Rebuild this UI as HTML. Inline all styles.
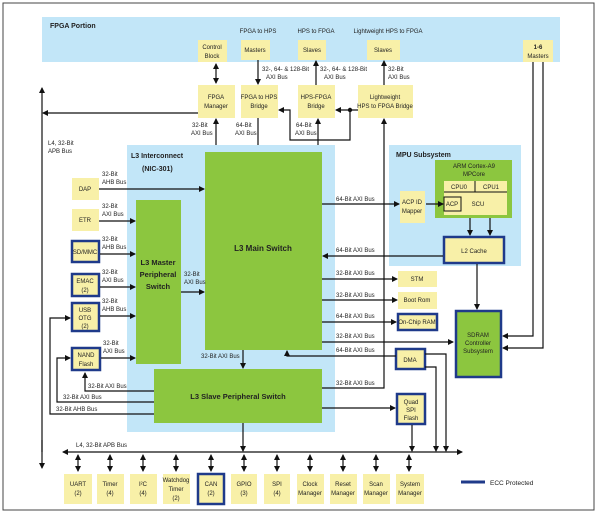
<!DOCTYPE html>
<html><head><meta charset="utf-8"><style>
html,body{margin:0;padding:0;background:#fff}
svg{display:block}
text{font-family:"Liberation Sans Narrow","Liberation Sans",sans-serif;font-size:6px;fill:#222}
.b{font-weight:bold}
.y{fill:#f8f0a8}
.g{fill:#8cc63f}
.lb{fill:#c2e6f8}
.e{stroke:#1f3a8a;stroke-width:2.5}
.l{stroke:#111;stroke-width:1.2;fill:none}
</style></head><body>
<svg width="600" height="516" viewBox="0 0 600 516" xmlns="http://www.w3.org/2000/svg">
<defs><marker id="a" markerWidth="6" markerHeight="6" refX="5" refY="3" orient="auto" markerUnits="userSpaceOnUse"><path d="M0,0 L6,3 L0,6 z" fill="#111"/></marker>
<marker id="s" markerWidth="6" markerHeight="6" refX="1" refY="3" orient="auto" markerUnits="userSpaceOnUse"><path d="M6,0 L0,3 L6,6 z" fill="#111"/></marker></defs>
<rect x="3" y="3" width="591" height="507" fill="#fff" stroke="#444" stroke-width="1"/>
<!-- FPGA band -->
<rect class="lb" x="42" y="17" width="518" height="45"/>
<text x="50" y="28" class="b" style="font-size:7px">FPGA Portion</text>
<text x="258" y="33" text-anchor="middle">FPGA to HPS</text>
<text x="316" y="33" text-anchor="middle">HPS to FPGA</text>
<text x="388" y="33" text-anchor="middle">Lightweight HPS to FPGA</text>
<rect class="y" x="198" y="40" width="29" height="22"/><text x="212" y="49" text-anchor="middle">Control</text><text x="212" y="58" text-anchor="middle">Block</text>
<rect class="y" x="241" y="40" width="29" height="20"/><text x="255" y="52" text-anchor="middle">Masters</text>
<rect class="y" x="298" y="40" width="28" height="20"/><text x="312" y="52" text-anchor="middle">Slaves</text>
<rect class="y" x="367" y="40" width="33" height="20"/><text x="383" y="52" text-anchor="middle">Slaves</text>
<rect class="y" x="523" y="40" width="30" height="22"/><text x="538" y="49" text-anchor="middle" class="b">1-6</text><text x="538" y="58" text-anchor="middle">Masters</text>
<!-- row2 -->
<rect class="y" x="198" y="85" width="37" height="33"/><text x="216" y="99" text-anchor="middle">FPGA</text><text x="216" y="108" text-anchor="middle">Manager</text>
<rect class="y" x="241" y="85" width="37" height="33"/><text x="259" y="99" text-anchor="middle">FPGA to HPS</text><text x="259" y="108" text-anchor="middle">Bridge</text>
<rect class="y" x="298" y="85" width="37" height="33"/><text x="316" y="99" text-anchor="middle">HPS-FPGA</text><text x="316" y="108" text-anchor="middle">Bridge</text>
<rect class="y" x="358" y="85" width="55" height="33"/><text x="385" y="99" text-anchor="middle">Lightweight</text><text x="385" y="108" text-anchor="middle">HPS to FPGA Bridge</text>
<line class="l" x1="216" y1="64" x2="216" y2="83" marker-start="url(#s)" marker-end="url(#a)"/>
<line class="l" x1="258" y1="60" x2="258" y2="84" marker-end="url(#a)"/>
<text x="262" y="71">32-, 64- &amp; 128-Bit</text><text x="266" y="79">AXI Bus</text>
<line class="l" x1="316" y1="85" x2="316" y2="61" marker-end="url(#a)"/>
<text x="320" y="71">32-, 64- &amp; 128-Bit</text><text x="324" y="79">AXI Bus</text>
<line class="l" x1="384" y1="85" x2="384" y2="61" marker-end="url(#a)"/>
<text x="388" y="71">32-Bit</text><text x="388" y="79">AXI Bus</text>
<line class="l" x1="198" y1="113" x2="43" y2="113" marker-end="url(#a)"/>
<line class="l" x1="42" y1="452" x2="42" y2="88" marker-end="url(#a)"/>
<line class="l" x1="42" y1="440" x2="42" y2="468" marker-end="url(#a)"/>
<text x="48" y="145">L4, 32-Bit</text><text x="48" y="153">APB Bus</text>
<line class="l" x1="216" y1="152" x2="216" y2="119" marker-end="url(#a)"/>
<text x="192" y="127">32-Bit</text><text x="191" y="135">AXI Bus</text>
<line class="l" x1="258" y1="118" x2="258" y2="151" marker-end="url(#a)"/>
<text x="236" y="127">64-Bit</text><text x="235" y="135">AXI Bus</text>
<line class="l" x1="318" y1="152" x2="318" y2="119" marker-end="url(#a)"/>
<text x="296" y="127">64-Bit</text><text x="295" y="135">AXI Bus</text>
<line class="l" x1="358" y1="110" x2="336" y2="110" marker-end="url(#a)"/>
<polyline class="l" points="350,110 350,140 290,140 290,110 279,110" marker-end="url(#a)"/>
<circle cx="350" cy="110" r="2.2" fill="#111"/>
<!-- L3 interconnect -->
<rect class="lb" x="127" y="145" width="208" height="287"/>
<text x="131" y="158" class="b" style="font-size:7px">L3 Interconnect</text>
<text x="142" y="171" class="b" style="font-size:7px">(NIC-301)</text>
<rect class="g" x="205" y="152" width="117" height="198"/>
<text x="263" y="251" text-anchor="middle" class="b" style="font-size:8px">L3 Main Switch</text>
<rect class="g" x="136" y="200" width="45" height="164"/>
<text x="158" y="265" text-anchor="middle" class="b" style="font-size:7.5px">L3 Master</text>
<text x="158" y="277" text-anchor="middle" class="b" style="font-size:7.5px">Peripheral</text>
<text x="158" y="289" text-anchor="middle" class="b" style="font-size:7.5px">Switch</text>
<line class="l" x1="181" y1="292" x2="204" y2="292" marker-end="url(#a)"/>
<text x="184" y="276">32-Bit</text><text x="184" y="284">AXI Bus</text>
<rect class="g" x="154" y="369" width="168" height="54"/>
<text x="238" y="399" text-anchor="middle" class="b" style="font-size:7.5px">L3 Slave Peripheral Switch</text>
<line class="l" x1="243" y1="350" x2="243" y2="368" marker-end="url(#a)"/>
<text x="201" y="358">32-Bit AXI Bus</text>
<!-- left peripherals -->
<rect class="y" x="72" y="178" width="27" height="22"/><text x="85" y="191" text-anchor="middle">DAP</text>
<line class="l" x1="99" y1="189" x2="204" y2="189" marker-end="url(#a)"/><text x="102" y="176">32-Bit</text><text x="102" y="184">AHB Bus</text>
<rect class="y" x="72" y="209" width="27" height="22"/><text x="85" y="222" text-anchor="middle">ETR</text>
<line class="l" x1="99" y1="221" x2="135" y2="221" marker-end="url(#a)"/><text x="102" y="208">32-Bit</text><text x="102" y="216">AXI Bus</text>
<rect class="y e" x="72" y="241" width="27" height="21"/><text x="85" y="254" text-anchor="middle">SD/MMC</text>
<line class="l" x1="100" y1="254" x2="135" y2="254" marker-end="url(#a)"/><text x="102" y="241">32-Bit</text><text x="102" y="249">AHB Bus</text>
<rect class="y e" x="72" y="274" width="27" height="22"/><text x="85" y="283" text-anchor="middle">EMAC</text><text x="85" y="292" text-anchor="middle">(2)</text>
<line class="l" x1="100" y1="287" x2="135" y2="287" marker-end="url(#a)"/><text x="102" y="274">32-Bit</text><text x="102" y="282">AXI Bus</text>
<rect class="y e" x="72" y="303" width="27" height="28"/><text x="85" y="312" text-anchor="middle">USB</text><text x="85" y="320" text-anchor="middle">OTG</text><text x="85" y="328" text-anchor="middle">(2)</text>
<line class="l" x1="100" y1="316" x2="135" y2="316" marker-end="url(#a)"/><text x="102" y="303">32-Bit</text><text x="102" y="311">AHB Bus</text>
<rect class="y e" x="72" y="348" width="28" height="22"/><text x="86" y="357" text-anchor="middle">NAND</text><text x="86" y="366" text-anchor="middle">Flash</text>
<line class="l" x1="101" y1="358" x2="135" y2="358" marker-end="url(#a)"/><text x="103" y="345">32-Bit</text><text x="103" y="353">AXI Bus</text>
<polyline class="l" points="154,391 85,391 85,373" marker-end="url(#a)"/><text x="88" y="388">32-Bit AXI Bus</text>
<polyline class="l" points="154,402 57,402 57,358 70,358" marker-end="url(#a)"/><text x="63" y="399">32-Bit AXI Bus</text>
<polyline class="l" points="154,414 50,414 50,318 70,318" marker-end="url(#a)"/><text x="56" y="411">32-Bit AHB Bus</text>
<!-- MPU -->
<rect class="lb" x="389" y="145" width="132" height="121"/>
<text x="396" y="157" class="b" style="font-size:7px">MPU Subsystem</text>
<rect class="g" x="435" y="160" width="77" height="58"/>
<text x="474" y="168" text-anchor="middle">ARM Cortex-A9</text><text x="474" y="176" text-anchor="middle">MPCore</text>
<rect class="y" x="444" y="181" width="63" height="34"/>
<line x1="444" y1="192" x2="507" y2="192" stroke="#111" stroke-width="1"/>
<line x1="475" y1="181" x2="475" y2="192" stroke="#111" stroke-width="1"/>
<text x="459" y="189" text-anchor="middle">CPU0</text><text x="491" y="189" text-anchor="middle">CPU1</text>
<rect x="444" y="197" width="17" height="14" fill="none" stroke="#111" stroke-width="1"/><text x="452" y="206" text-anchor="middle">ACP</text>
<text x="478" y="206" text-anchor="middle">SCU</text>
<rect class="y" x="400" y="191" width="25" height="32"/><text x="412" y="204" text-anchor="middle">ACP ID</text><text x="412" y="213" text-anchor="middle">Mapper</text>
<line class="l" x1="322" y1="204" x2="399" y2="204" marker-end="url(#a)"/><text x="336" y="201">64-Bit AXI Bus</text>
<line class="l" x1="426" y1="204" x2="443" y2="204" marker-end="url(#a)"/>
<line class="l" x1="470" y1="218" x2="470" y2="235" marker-end="url(#a)"/>
<line class="l" x1="490" y1="218" x2="490" y2="235" marker-end="url(#a)"/>
<rect class="y e" x="444" y="237" width="60" height="26"/><text x="474" y="253" text-anchor="middle">L2 Cache</text>
<line class="l" x1="443" y1="256" x2="323" y2="256" marker-end="url(#a)"/><text x="336" y="252">64-Bit AXI Bus</text>
<line class="l" x1="477" y1="264" x2="477" y2="309" marker-end="url(#a)"/>
<!-- right slaves -->
<rect class="y" x="398" y="271" width="39" height="16"/><text x="417" y="281" text-anchor="middle">STM</text>
<line class="l" x1="322" y1="279" x2="397" y2="279" marker-end="url(#a)"/><text x="336" y="275">32-Bit AXI Bus</text>
<rect class="y" x="398" y="292" width="39" height="17"/><text x="417" y="302" text-anchor="middle">Boot Rom</text>
<line class="l" x1="322" y1="300" x2="397" y2="300" marker-end="url(#a)"/><text x="336" y="297">32-Bit AXI Bus</text>
<rect class="y e" x="398" y="314" width="39" height="16"/><text x="417" y="324" text-anchor="middle">On-Chip RAM</text>
<line class="l" x1="322" y1="322" x2="396" y2="322" marker-end="url(#a)"/><text x="336" y="318">64-Bit AXI Bus</text>
<line class="l" x1="322" y1="342" x2="453" y2="342" marker-end="url(#a)"/><text x="336" y="338">32-Bit AXI Bus</text>
<rect class="g e" x="456" y="311" width="45" height="66"/>
<text x="478" y="337" text-anchor="middle">SDRAM</text><text x="478" y="345" text-anchor="middle">Controller</text><text x="478" y="353" text-anchor="middle">Subsystem</text>
<polyline class="l" points="533,62 533,336 503,336" marker-end="url(#a)"/>
<polyline class="l" points="543,62 543,348 503,348" marker-end="url(#a)"/>
<rect class="y e" x="396" y="349" width="29" height="20"/><text x="410" y="362" text-anchor="middle">DMA</text>
<polyline class="l" points="396,356 287,356 287,351" marker-end="url(#a)"/><text x="336" y="352">64-Bit AXI Bus</text>
<polyline class="l" points="322,388 384,388 384,119" marker-end="url(#a)"/><text x="336" y="385">32-Bit AXI Bus</text>
<polyline class="l" points="425,354 446,354 446,451" marker-end="url(#a)"/>
<polyline class="l" points="425,367 436,367 436,451" marker-end="url(#a)"/>
<rect class="y e" x="397" y="394" width="28" height="30"/><text x="411" y="404" text-anchor="middle">Quad</text><text x="411" y="412" text-anchor="middle">SPI</text><text x="411" y="420" text-anchor="middle">Flash</text>
<line class="l" x1="322" y1="408" x2="395" y2="408" marker-end="url(#a)"/>
<line class="l" x1="412" y1="425" x2="412" y2="451" marker-end="url(#a)"/>
<line class="l" x1="243" y1="423" x2="243" y2="451" marker-end="url(#a)"/>
<!-- APB bus -->
<line class="l" x1="63" y1="452" x2="462" y2="452" marker-start="url(#s)" marker-end="url(#a)"/>
<text x="76" y="447">L4, 32-Bit APB Bus</text>
<g>
<rect class="y" x="64" y="474" width="28" height="30"/><text x="78" y="486" text-anchor="middle">UART</text><text x="78" y="495" text-anchor="middle">(2)</text>
<rect class="y" x="97" y="474" width="27" height="30"/><text x="110" y="486" text-anchor="middle">Timer</text><text x="110" y="495" text-anchor="middle">(4)</text>
<rect class="y" x="130" y="474" width="27" height="30"/><text x="143" y="486" text-anchor="middle">I²C</text><text x="143" y="495" text-anchor="middle">(4)</text>
<rect class="y" x="163" y="474" width="27" height="30"/><text x="176" y="482" text-anchor="middle">Watchdog</text><text x="176" y="491" text-anchor="middle">Timer</text><text x="176" y="500" text-anchor="middle">(2)</text>
<rect class="y e" x="198" y="474" width="26" height="30"/><text x="211" y="486" text-anchor="middle">CAN</text><text x="211" y="495" text-anchor="middle">(2)</text>
<rect class="y" x="231" y="474" width="26" height="30"/><text x="244" y="486" text-anchor="middle">GPIO</text><text x="244" y="495" text-anchor="middle">(3)</text>
<rect class="y" x="264" y="474" width="26" height="30"/><text x="277" y="486" text-anchor="middle">SPI</text><text x="277" y="495" text-anchor="middle">(4)</text>
<rect class="y" x="297" y="474" width="27" height="30"/><text x="310" y="486" text-anchor="middle">Clock</text><text x="310" y="495" text-anchor="middle">Manager</text>
<rect class="y" x="330" y="474" width="27" height="30"/><text x="343" y="486" text-anchor="middle">Reset</text><text x="343" y="495" text-anchor="middle">Manager</text>
<rect class="y" x="363" y="474" width="27" height="30"/><text x="376" y="486" text-anchor="middle">Scan</text><text x="376" y="495" text-anchor="middle">Manager</text>
<rect class="y" x="396" y="474" width="28" height="30"/><text x="410" y="486" text-anchor="middle">System</text><text x="410" y="495" text-anchor="middle">Manager</text>
</g>
<g class="l">
<line x1="78" y1="455" x2="78" y2="471" marker-start="url(#s)" marker-end="url(#a)"/>
<line x1="110" y1="455" x2="110" y2="471" marker-start="url(#s)" marker-end="url(#a)"/>
<line x1="143" y1="455" x2="143" y2="471" marker-start="url(#s)" marker-end="url(#a)"/>
<line x1="176" y1="455" x2="176" y2="471" marker-start="url(#s)" marker-end="url(#a)"/>
<line x1="211" y1="455" x2="211" y2="471" marker-start="url(#s)" marker-end="url(#a)"/>
<line x1="244" y1="455" x2="244" y2="471" marker-start="url(#s)" marker-end="url(#a)"/>
<line x1="277" y1="455" x2="277" y2="471" marker-start="url(#s)" marker-end="url(#a)"/>
<line x1="310" y1="455" x2="310" y2="471" marker-start="url(#s)" marker-end="url(#a)"/>
<line x1="343" y1="455" x2="343" y2="471" marker-start="url(#s)" marker-end="url(#a)"/>
<line x1="376" y1="455" x2="376" y2="471" marker-start="url(#s)" marker-end="url(#a)"/>
<line x1="409" y1="455" x2="409" y2="471" marker-start="url(#s)" marker-end="url(#a)"/>
</g>
<line x1="461" y1="482" x2="485" y2="482" stroke="#1f3a8a" stroke-width="3"/>
<text x="490" y="485" style="font-size:6.5px">ECC Protected</text>
</svg>
</body></html>
